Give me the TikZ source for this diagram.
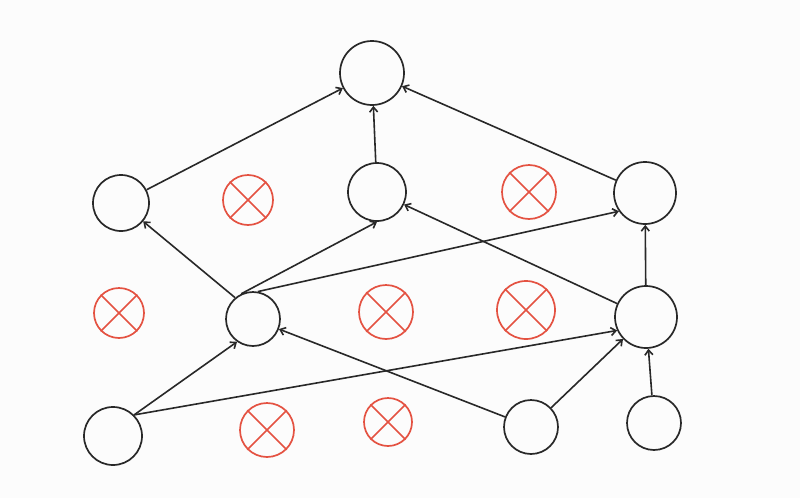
\documentclass[tikz,border=0pt]{standalone}
\usetikzlibrary{arrows.meta}
\definecolor{ink}{RGB}{40,40,40}
\definecolor{redx}{RGB}{228,82,66}
\begin{document}
\begin{tikzpicture}[x=1pt,y=-1pt,
  nd/.style={circle,draw=ink,line width=1.7pt,inner sep=0pt,minimum size=#1},
  edge/.style={draw=ink,line width=1.6pt,-{Straight Barb[length=5pt,width=8pt]}},
  xo/.style={circle,draw=redx,line width=1.7pt,inner sep=0pt,minimum size=#1}]
\fill[white!99!black] (0,0) rectangle (800,498);
\useasboundingbox (0,0) rectangle (800,498);
\node[nd=64pt] (T) at (372,73) {};
\node[nd=56pt] (L1) at (121,203) {};
\node[nd=58pt] (M1) at (377,192) {};
\node[nd=62pt] (R1) at (645,193) {};
\node[nd=54pt] (ML) at (253,319) {};
\node[nd=62pt] (MR) at (646,317) {};
\node[nd=58pt] (B1) at (113,436) {};
\node[nd=54pt] (B2) at (531,427) {};
\node[nd=54pt] (B3) at (654,423) {};
\foreach \n/\x/\y/\s in {a/248/200/50, b/529/192/54, c/119/313/50, d/386/312/54, e/526/310/58, f/267/430/54, g/388/422/48}{
  \node[xo=\s pt] (\n) at (\x,\y) {};
  \draw[redx,line width=1.6pt] (\n.north east) -- (\n.south west) (\n.north west) -- (\n.south east);
}
\draw[edge] (L1) -- (T);
\draw[edge] (M1) -- (T);
\draw[edge] (R1) -- (T);
\draw[edge] (ML.130) -- (L1);
\draw[edge] (ML.115) -- (M1.270);
\draw[edge] (ML.80) -- (R1.215);
\draw[edge] (MR) -- (M1);
\draw[edge] (MR) -- (R1);
\draw[edge] (B1.45) -- (ML.235);
\draw[edge] (B1.45) -- (MR.205);
\draw[edge] (B2) -- (ML);
\draw[edge] (B2) -- (MR);
\draw[edge] (B3) -- (MR);
\end{tikzpicture}
\end{document}
